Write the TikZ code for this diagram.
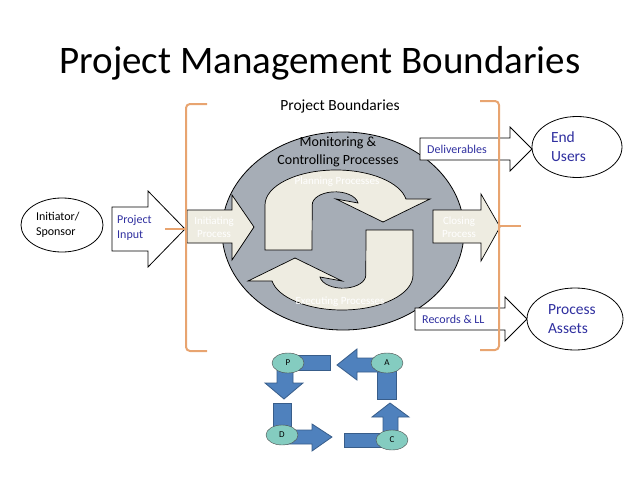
\documentclass[tikz,border=0pt]{standalone}
\usepackage{fontspec}
\setmainfont{Carlito}
\usetikzlibrary{arrows,positioning,shapes.geometric}

\definecolor{bracketorange}{RGB}{232,164,112}
\definecolor{mcgray}{RGB}{166,173,182}
\definecolor{procbeige}{RGB}{238,236,225}
\definecolor{labelblue}{RGB}{48,48,160}
\definecolor{pdcablue}{RGB}{79,129,189}
\definecolor{pdcaedge}{RGB}{56,93,138}
\definecolor{pdcateal}{RGB}{132,204,192}

\begin{document}
\begin{tikzpicture}[x=1pt,y=-1pt]
  \tikzstyle{every node}=[inner sep=0pt]
  \tikzstyle{party}=[ellipse,draw,fill=white,line width=0.8pt,align=left]
  \tikzstyle{blockarrow}=[draw,fill=white,line width=0.8pt]
  \tikzstyle{procarrow}=[draw,fill=procbeige,line width=0.7pt]
  \tikzstyle{bracket}=[draw=bracketorange,line width=2pt,rounded corners=4pt]
  \tikzstyle{small}=[font=\fontsize{12}{15}\selectfont]
  \tikzstyle{faint}=[text=white,font=\fontsize{11}{13}\selectfont,align=center]
  \tikzstyle{pdca}=[ellipse,draw=black!70,fill=pdcateal,minimum width=32pt,minimum height=20pt,font=\fontsize{9}{10}\selectfont]
  \tikzstyle{pdcaarrow}=[draw=pdcaedge,fill=pdcablue,line width=0.8pt]

  \useasboundingbox (0,0) rectangle (638,479);

  % monitoring & controlling
  \node[ellipse,draw,fill=mcgray,line width=0.8pt,minimum width=242pt,minimum height=198pt] (mc) at (343,231) {};

  % planning and executing
  \path[procarrow] (265,250) -- (265,205)
    arc[start angle=180,end angle=350,x radius=71,y radius=35]
    -- (430,199) -- (383,222) -- (336,199) -- (358,203)
    arc[start angle=352,end angle=180,x radius=23,y radius=13]
    -- (312,250) -- cycle;
  \begin{scope}[rotate around={180:(339,240)}]
    \path[procarrow] (265,250) -- (265,205)
      arc[start angle=180,end angle=350,x radius=71,y radius=35]
      -- (430,199) -- (383,222) -- (336,199) -- (358,203)
      arc[start angle=352,end angle=180,x radius=23,y radius=13]
      -- (312,250) -- cycle;
  \end{scope}
  \node[faint] (plan) at (337,182) {Planning Processes};
  \node[faint] (exec) at (340,302) {Executing Processes};

  % initiating and closing
  \path[procarrow] (187,210) -- (232,210) -- (232,195) -- (254,227)
    -- (232,260) -- (232,243) -- (187,243) -- cycle;
  \path[procarrow] (433,210) -- (481,210) -- (481,194) -- (500,227)
    -- (481,261) -- (481,243) -- (433,243) -- cycle;
  \node[faint] (initp) at (214,227) {Initiating\\Process};
  \node[faint] (closep) at (459,227) {Closing\\Process};

  \node[font=\fontsize{14}{18}\selectfont,align=center] (mctext) at (338,152) {Monitoring \&\\Controlling Processes};

  % inputs and outputs
  \path[blockarrow] (112,207) -- (148,207) -- (148,191) -- (185,229)
    -- (148,267) -- (148,251) -- (112,251) -- cycle;
  \node[small,text=labelblue,align=left,anchor=west] (input) at (117,228) {Project\\Input};
  \path[blockarrow] (420,138) -- (510,138) -- (510,127) -- (532,149)
    -- (510,171) -- (510,160) -- (420,160) -- cycle;
  \node[small,text=labelblue,anchor=west] (deliv) at (427,149) {Deliverables};
  \path[blockarrow] (415,308) -- (505,308) -- (505,297) -- (527,319)
    -- (505,341) -- (505,330) -- (415,330) -- cycle;
  \node[small,text=labelblue,anchor=west] (records) at (422,319) {Records \& LL};

  % boundaries
  \draw[bracket] (207,104) -- (186,104) -- (186,351) -- (207,351);
  \draw[bracket] (186,229) -- (165,229);
  \draw[bracket] (480,101) -- (499,101) -- (499,350) -- (480,350);
  \draw[bracket] (499,226) -- (521,226);

  \node[party,small,minimum width=82pt,minimum height=54pt,text width=52pt] (sponsor) at (62,225) {Initiator/\\Sponsor};
  \node[party,text=labelblue,font=\fontsize{15.5}{19}\selectfont,minimum width=90pt,minimum height=61pt,text width=52pt] (users) at (577,147) {End\\Users};
  \node[party,text=labelblue,font=\fontsize{15.5}{19}\selectfont,minimum width=96pt,minimum height=62pt,text width=54pt] (assets) at (575,319) {Process\\Assets};

  \node[font=\fontsize{39}{44}\selectfont,anchor=base] (title) at (320,73) {Project Management Boundaries};
  \node[font=\fontsize{15.5}{18}\selectfont] (bound) at (340,106) {Project Boundaries};

  % plan do check act
  \path[pdcaarrow] (295,355) rectangle (330,370);
  \path[pdcaarrow] (377,365) rectangle (396,399);
  \path[pdcaarrow] (273,403) rectangle (291,432);
  \path[pdcaarrow] (344,433) rectangle (382,447);
  \path[pdcaarrow] (277,368) -- (293,368) -- (293,383) -- (303,383)
    -- (284,399) -- (265,383) -- (277,383) -- cycle;
  \path[pdcaarrow] (380,358) -- (357,358) -- (357,349) -- (337,365)
    -- (357,380) -- (357,372) -- (380,372) -- cycle;
  \path[pdcaarrow] (285,430) -- (312,430) -- (312,424) -- (332,437)
    -- (312,451) -- (312,444) -- (285,444) -- cycle;
  \path[pdcaarrow] (383,432) -- (383,417) -- (372,417) -- (390,403)
    -- (409,417) -- (398,417) -- (398,432) -- cycle;
  \node[pdca] (p) at (288,363) {P};
  \node[pdca] (a) at (387,363) {A};
  \node[pdca] (d) at (282,435) {D};
  \node[pdca] (c) at (392,440) {C};
\end{tikzpicture}
\end{document}
